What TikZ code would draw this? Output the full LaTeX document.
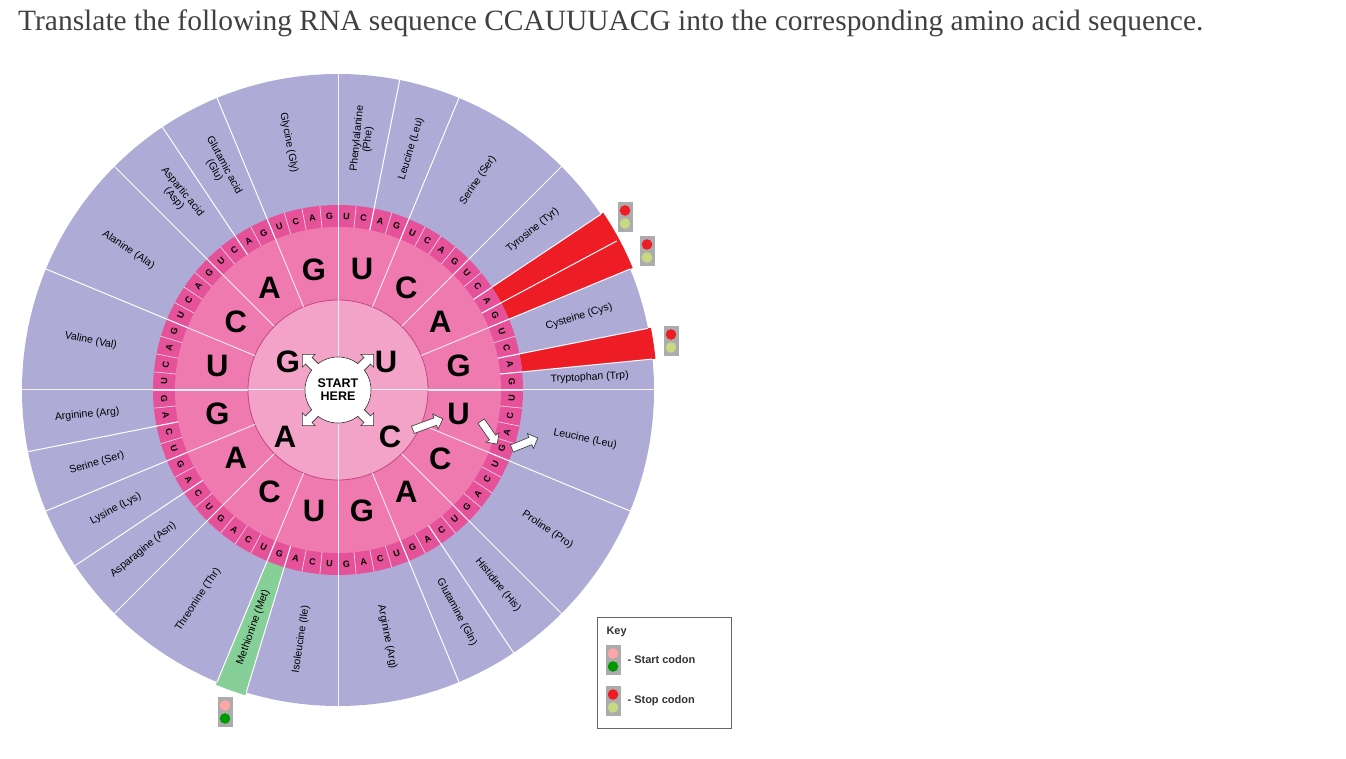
\documentclass[tikz,border=0pt]{standalone}
\usepackage{fontspec}
\setmainfont{Liberation Serif}
\newfontfamily\lsans{Liberation Sans}
\usetikzlibrary{shapes.arrows,calc}
\definecolor{lav}{HTML}{AEABD6}
\definecolor{pkA}{HTML}{E6529A}
\definecolor{pkB}{HTML}{EE7AB0}
\definecolor{pkC}{HTML}{F3A2C8}
\definecolor{stopred}{HTML}{EE1C25}
\definecolor{metgreen}{HTML}{86CF98}
\tikzset{
  lab/.style={font=\lsans\fontsize{10.5}{11}\selectfont, text=black, align=center, inner sep=0},
  big/.style={font=\lsans\bfseries\fontsize{31}{31}\selectfont, inner sep=0},
  small/.style={font=\lsans\bfseries\fontsize{9}{9}\selectfont, inner sep=0},
  warr/.style={single arrow, draw=black!80, fill=white, line width=0.6pt, minimum height=32pt, minimum width=16pt, single arrow head extend=3.5pt, inner sep=3pt},
  pics/tl/.style 2 args={code={
    \fill[gray!65] (-7.5,-15) rectangle (7.5,15);
    \fill[#1] (0,6.5) circle (5.3);
    \fill[#2] (0,-6.5) circle (5.3);}}
}
\begin{document}
\begin{tikzpicture}[x=1pt,y=1pt]
\useasboundingbox (0,0) rectangle (1346,758);
\fill[white] (0,0) rectangle (1346,758);
\coordinate (C) at (338,368);
\node[anchor=west, inner sep=0, text=black!75] (title) at (18,735)
  {\resizebox{1185pt}{!}{Translate the following RNA sequence CCAUUUACG into the corresponding amino acid sequence.}};
% rings
\fill[lav] (C) circle (316);
\foreach \a/\b/\c in {33.75/22.5/stopred, 11.25/5.625/stopred, -106.875/-112.5/metgreen}{
  \fill[\c] ([shift={(\a:185)}]C) -- ([shift={(\a:319)}]C) arc[start angle=\a,end angle=\b,radius=319]
     -- ([shift={(\b:185)}]C) arc[start angle=\b,end angle=\a,radius=185] -- cycle;
}
\fill[pkA] (C) circle (185);
\fill[pkB] (C) circle (163);
\fill[pkC] (C) circle (90);
\draw[pkA!85!black, line width=0.8pt] (C) circle (90);
% third ring ticks
\foreach \n in {0,...,63}{
  \pgfmathsetmacro\th{90-\n*5.625}
  \draw[white!80!pkA, line width=0.6pt] ([shift={(\th:163)}]C) -- ([shift={(\th:185)}]C);
}
% second ring separators
\foreach \n in {0,...,15}{
  \pgfmathsetmacro\th{90-\n*22.5}
  \draw[white!85!pkB, line width=0.9pt] ([shift={(\th:90)}]C) -- ([shift={(\th:163)}]C);
}
% amino acid separators
\foreach \n in {0,2,4,8,10,11,12,14,15,16,20,24,26,28,32,35,36,40,42,44,46,48,52,56,58,60}{
  \pgfmathsetmacro\th{90-\n*5.625}
  \draw[white, line width=1pt] ([shift={(\th:163)}]C) -- ([shift={(\th:316)}]C);
}
% axes
\draw[white!85!pkC, line width=1pt] ([shift={(180:316)}]C) -- ([shift={(0:316)}]C);
\draw[white!85!pkC, line width=1pt] ([shift={(90:316)}]C) -- ([shift={(-90:316)}]C);
% third ring letters
\foreach \n in {0,...,63}{
  \pgfmathsetmacro\th{90-(\n+0.5)*5.625}
  \pgfmathsetmacro\rt{ifthenelse(sin(\th)>=0,\th-90,\th+90)}
  \pgfmathparse{{"U","C","A","G"}[mod(\n,4)]}
  \node[small, rotate=\rt] (t\n) at ([shift={(\th:174)}]C) {\pgfmathresult};
}
% second ring letters
\foreach \n in {0,...,15}{
  \pgfmathsetmacro\th{90-(\n+0.5)*22.5}
  \pgfmathparse{{"U","C","A","G"}[mod(\n,4)]}
  \node[big] (s\n) at ([shift={(\th:123)}]C) {\pgfmathresult};
}
% first letters
\node[big] (fU) at ($(C)+(48,28)$) {U};
\node[big] (fC) at ($(C)+(52,-47)$) {C};
\node[big] (fA) at ($(C)+(-53,-47)$) {A};
\node[big] (fG) at ($(C)+(-50,28)$) {G};
% amino acid labels
\foreach \m/\t in {1/{Phenylalanine\\(Phe)},3/{Leucine (Leu)},6/{Serine (Ser)},9/{Tyrosine (Tyr)},13/{Cysteine (Cys)},15.5/{Tryptophan (Trp)},18/{Leucine (Leu)},22/{Proline (Pro)},25/{Histidine (His)},27/{Glutamine (Gln)},30/{Arginine (Arg)},33.5/{Isoleucine (Ile)},35.5/{Methionine (Met)},38/{Threonine (Thr)},41/{Asparagine (Asn)},43/{Lysine (Lys)},45/{Serine (Ser)},47/{Arginine (Arg)},50/{Valine (Val)},54/{Alanine (Ala)},57/{Aspartic acid\\(Asp)},59/{Glutamic acid\\(Glu)},62/{Glycine (Gly)}}{
  \pgfmathsetmacro\th{90-\m*5.625}
  \pgfmathsetmacro\rt{ifthenelse(cos(\th)>=0,\th,\th+180)}
  \node[lab, rotate=\rt] at ([shift={(\th:252)}]C) {\t};
}
% start here
\foreach \a in {45,135,225,315}{
  \node[warr, minimum height=22pt, minimum width=18pt, inner sep=3.5pt, rotate=\a] (sa\a) at ([shift={(\a:37)}]C) {};
}
\node[circle, fill=white, draw=black!80, line width=0.6pt, minimum size=66pt, inner sep=0] (start) at (C) {};
\fill[white] (C) circle (32);
\foreach \a in {45,135,225,315}{
  \fill[white] ([shift={(\a:30)}]C) circle (5);
}
\node[inner sep=0, align=center, font=\lsans\bfseries\fontsize{12.5}{13}\selectfont] (sh) at (C) {START\\HERE};
% path arrows
\node[warr, rotate=20] (ar1) at (426,333) {};
\node[warr, rotate=-55, minimum height=28pt] (ar2) at (488,327) {};
\node[warr, rotate=22, minimum height=28pt] (ar3) at (523,314) {};
% traffic lights
\pic at (625,541) {tl={stopred}{green!20!yellow!40!white!85!black}};
\pic at (647,507) {tl={stopred}{green!20!yellow!40!white!85!black}};
\pic at (671,417) {tl={stopred}{green!20!yellow!40!white!85!black}};
\pic at (225,46) {tl={red!35!white}{green!60!black}};
% key
\node[draw=black!60, line width=1pt, minimum width=134pt, minimum height=111pt, inner sep=0] (key) at (664,85.5) {};
\node[anchor=west, font=\lsans\bfseries\fontsize{11}{11}\selectfont, text=black!80] (keyt) at (603,126) {Key};
\pic at (613,98) {tl={red!35!white}{green!60!black}};
\pic at (613,57) {tl={stopred}{green!20!yellow!40!white!85!black}};
\node[anchor=west, font=\lsans\bfseries\fontsize{11}{11}\selectfont, text=black!80] (k1) at (624,98) {- Start codon};
\node[anchor=west, font=\lsans\bfseries\fontsize{11}{11}\selectfont, text=black!80] (k2) at (624,57) {- Stop codon};
\end{tikzpicture}
\end{document}
